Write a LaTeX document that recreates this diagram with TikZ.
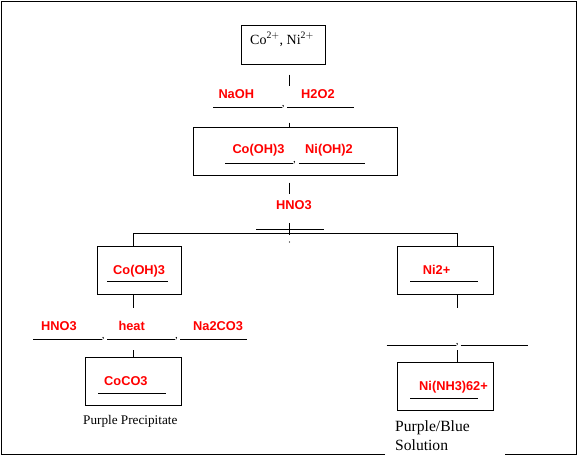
\documentclass[tikz,border=0pt]{standalone}
\usepackage{fontspec}
\setmainfont{Liberation Serif}
\newfontfamily\lblfont{Liberation Sans}
\definecolor{lblred}{RGB}{255,0,0}
\tikzset{
  box/.style={draw, line width=1pt, inner sep=0pt},
  redlbl/.style={anchor=base west, inner sep=0pt, text=lblred, font=\lblfont\bfseries\fontsize{12.8}{15}\selectfont},
  blk/.style={anchor=base west, inner sep=0pt, text=black},
  cmm/.style={anchor=base west, inner sep=0pt, font=\fontsize{11}{12}\selectfont},
  conn/.style={line width=1pt},
  uline/.style={line width=1pt}
}
\begin{document}
\begin{tikzpicture}[x=1pt,y=-1pt]
\useasboundingbox (0,0) rectangle (578,458);
% outer frame with gap at bottom
\draw[line width=1pt] (385,454) -- (1.5,454) -- (1.5,1.5) -- (576.7,1.5) -- (576.7,454) -- (505,454);

% boxes
\node[box, minimum width=84pt, minimum height=38.7pt] (b1) at (283.3,44.7) {};
\node[box, minimum width=204pt, minimum height=48pt] (b2) at (295,151) {};
\node[box, minimum width=84.4pt, minimum height=48.3pt] (b3) at (139.5,270.2) {};
\node[box, minimum width=96.4pt, minimum height=47.7pt] (b4) at (133.5,381.2) {};
\node[box, minimum width=96pt, minimum height=48.3pt] (b5) at (445.3,270.2) {};
\node[box, minimum width=96pt, minimum height=48pt] (b6) at (445.3,386.3) {};

% texts
\node[blk, font=\fontsize{14}{16}\selectfont] (t1) at (250,44) {Co$^{\mathrm{2+}}$, Ni$^{\mathrm{2+}}$};
\node[redlbl] (naoh) at (218.3,98.7) {NaOH};
\node[redlbl] (h2o2) at (301,98.7) {H2O2};
\node[redlbl] (cooh) at (232.3,153.8) {Co(OH)3};
\node[redlbl] (nioh) at (305,153.8) {Ni(OH)2};
\node[redlbl] (hno3a) at (276,209) {HNO3};
\node[redlbl] (cooh2) at (113,274) {Co(OH)3};
\node[redlbl] (hno3b) at (41,330.5) {HNO3};
\node[redlbl] (heat) at (118.3,330.5) {heat};
\node[redlbl] (na2co3) at (193,330.5) {Na2CO3};
\node[redlbl] (coco3) at (104,385.3) {CoCO3};
\node[redlbl] (ni2) at (422.7,274.3) {Ni2+};
\node[redlbl] (ninh3) at (419,390.7) {Ni(NH3)62+};
\node[blk, font=\fontsize{13.2}{15}\selectfont] (pp) at (83,424.3) {Purple Precipitate};
\node[blk, font=\fontsize{15.6}{19}\selectfont] (pb) at (395,431) {Purple/Blue};
\node[blk, font=\fontsize{15.6}{19}\selectfont] (sol) at (395,450.3) {Solution};

% underlines and commas
\draw[uline] (213,107) -- (281.7,107);
\node[cmm] (k1) at (281.7,106.5) {,};
\draw[uline] (287.3,107) -- (354,107);
\draw[uline] (225,163.3) -- (293,163.3);
\node[cmm] (k2) at (293,162.8) {,};
\draw[uline] (299,163.3) -- (365,163.3);
\draw[uline] (256.3,229.3) -- (323.7,229.3);
\draw[uline] (107,281.3) -- (168,281.3);
\draw[uline] (33,339) -- (101.7,339);
\node[cmm] (k3) at (101.7,338.5) {,};
\draw[uline] (107,339) -- (175,339);
\node[cmm] (k4) at (175,338.5) {,};
\draw[uline] (180,339) -- (247,339);
\draw[uline] (98,393.3) -- (166,393.3);
\draw[uline] (410,281.3) -- (477.7,281.3);
\draw[uline] (386.7,345.3) -- (455.7,345.3);
\node[cmm] (k5) at (455.7,344.8) {,};
\draw[uline] (460.7,345.3) -- (527.7,345.3);
\draw[uline] (410,398) -- (477.7,398);

% connectors
\coordinate (mx) at (289.5,0);
\coordinate (lx) at (133.3,0);
\coordinate (rx) at (457.3,0);
\coordinate (c1a) at (289.5,74.7);
\coordinate (c1b) at (289.5,86);
\coordinate (c2a) at (289.5,122.7);
\coordinate (c3a) at (289.5,182.7);
\coordinate (c3b) at (289.5,194);
\coordinate (c4a) at (289.5,223);
\coordinate (c4b) at (289.5,235);
\coordinate (br) at (289.5,233.3);
\draw[conn] (c1a) -- (c1b);
\draw[conn] (c2a) -- (b2.north -| mx);
\draw[conn] (c3a) -- (c3b);
\draw[conn] (c4a) -- (c4b);
\fill (289.5,242) circle (0.6pt);
\draw[conn] (b3.north -| lx) -- (br -| lx) -- (br -| rx) -- (b5.north -| rx);
\coordinate (l1) at (133.3,307.7);
\coordinate (l2) at (133.3,350);
\draw[conn] (b3.south -| lx) -- (l1);
\draw[conn] (l2) -- (b4.north -| lx);
\coordinate (r1) at (457.3,307.7);
\coordinate (r2) at (457.3,350);
\draw[conn] (b5.south -| rx) -- (r1);
\draw[conn] (r2) -- (b6.north -| rx);
\end{tikzpicture}
\end{document}
